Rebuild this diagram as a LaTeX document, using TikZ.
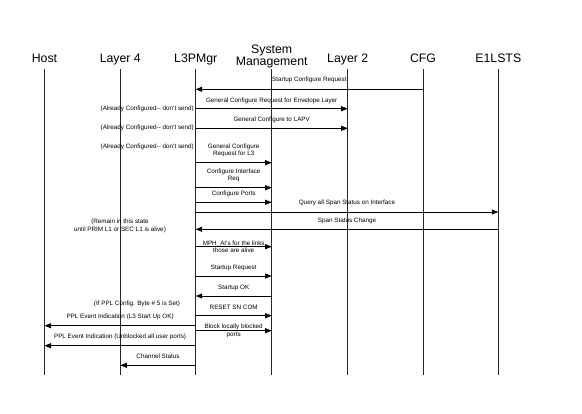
\documentclass[tikz,border=0pt]{standalone}
\usepackage{fontspec}
\setmainfont{Liberation Sans}
\usetikzlibrary{arrows.meta}
\begin{document}
\begin{tikzpicture}[x=1pt,y=-1pt,
  life/.style={draw=black!85, line width=0.7pt},
  msg/.style={draw=black, line width=0.7pt, -{Triangle[length=6.5pt,width=5pt]}},
  lbl/.style={font=\fontsize{6.3}{7.8}\selectfont, inner sep=0pt, align=center},
  hdr/.style={font=\fontsize{12.3}{12.5}\selectfont, inner sep=0pt, align=center}]
\useasboundingbox[fill=white] (0,0) rectangle (582,414);
% headers
\node[hdr, anchor=base] (host) at (44.5,63) {Host};
\node[hdr, anchor=base] (l4) at (120.3,63) {Layer 4};
\node[hdr, anchor=base] (l3) at (195.7,63) {L3PMgr};
\node[hdr, anchor=south] (sm) at (271.7,68.3) {System\\Management};
\node[hdr, anchor=base] (l2) at (347.7,63) {Layer 2};
\node[hdr, anchor=base] (cfg) at (423,63) {CFG};
\node[hdr, anchor=base] (e1) at (498.3,63) {E1LSTS};
% lifeline ends
\foreach \n/\x in {host/44.5, l4/120.3, l3/195.7, sm/271.7, l2/347.7, cfg/423, e1/498.3}{
  \coordinate (\n t) at (\x,69.5);
  \coordinate (\n b) at (\x,375);
  \draw[life] (\n t) -- (\n b);
}
% messages
\draw[msg, line width=1.1pt] (cfgt |- 0,89.3) -- (l3t |- 0,89.3) node[lbl, midway, yshift=9pt] {Startup Configure Request};
\draw[msg] (l3t |- 0,108.7) -- (l2t |- 0,108.7) node[lbl, midway, yshift=7.7pt] {General Configure Request for Envelope Layer};
\node[lbl, anchor=east] (ac1) at (194,108.7) {(Already Configured-{}- don't send)};
\draw[msg] (l3t |- 0,128.3) -- (l2t |- 0,128.3) node[lbl, midway, yshift=8.3pt] {General Configure to LAPV};
\node[lbl, anchor=east] (ac2) at (194,128.3) {(Already Configured-{}- don't send)};
\node[lbl, anchor=east] (ac3) at (194,146.7) {(Already Configured-{}- don't send)};
\draw[msg] (l3t |- 0,162.7) -- (smt |- 0,162.7) node[lbl, midway, yshift=12.4pt] {General Configure\\Request for L3};
\draw[msg] (l3t |- 0,187.7) -- (smt |- 0,187.7) node[lbl, midway, yshift=12.4pt] {Configure Interface\\Req};
\draw[msg] (l3t |- 0,202.3) -- (smt |- 0,202.3) node[lbl, midway, yshift=8.3pt] {Configure Ports};
\draw[msg] (l3t |- 0,212) -- (e1t |- 0,212) node[lbl, midway, yshift=8.7pt] {Query all Span Status on Interface};
\draw[msg] (e1t |- 0,229.3) -- (l3t |- 0,229.3) node[lbl, midway, yshift=8.6pt] {Span Status Change};
\node[lbl] (remain) at (120,225.5) {(Remain in this state\\until PRIM L1 or SEC L1 is alive)};
\draw[msg] (l3t |- 0,246.7) -- (smt |- 0,246.7) node[lbl, midway] {MPH\_AI's for the links\\those are alive};
\draw[msg] (l3t |- 0,276) -- (smt |- 0,276) node[lbl, midway, yshift=8.3pt] {Startup Request};
\draw[msg] (smt |- 0,296) -- (l3t |- 0,296) node[lbl, midway, yshift=8pt] {Startup OK};
\draw[msg] (l3t |- 0,315.7) -- (smt |- 0,315.7) node[lbl, midway, yshift=8.4pt] {RESET SN COM};
\node[lbl] (ifppl) at (137,303.7) {(If PPL Config. Byte \# 5 is Set)};
\draw[msg] (l3t |- 0,325.7) -- (hostt |- 0,325.7) node[lbl, midway, yshift=9pt] {PPL Event Indication (L3 Start Up OK)};
\draw[msg] (l3t |- 0,330.7) -- (smt |- 0,330.7) node[lbl, midway] {Block locally blocked\\ports};
\draw[msg] (l3t |- 0,345.7) -- (hostt |- 0,345.7) node[lbl, midway, yshift=9pt] {PPL Event Indication (Unblocked all user ports)};
\draw[msg] (l3t |- 0,365.3) -- (l4t |- 0,365.3) node[lbl, midway, yshift=8.6pt] {Channel Status};
\end{tikzpicture}
\end{document}
